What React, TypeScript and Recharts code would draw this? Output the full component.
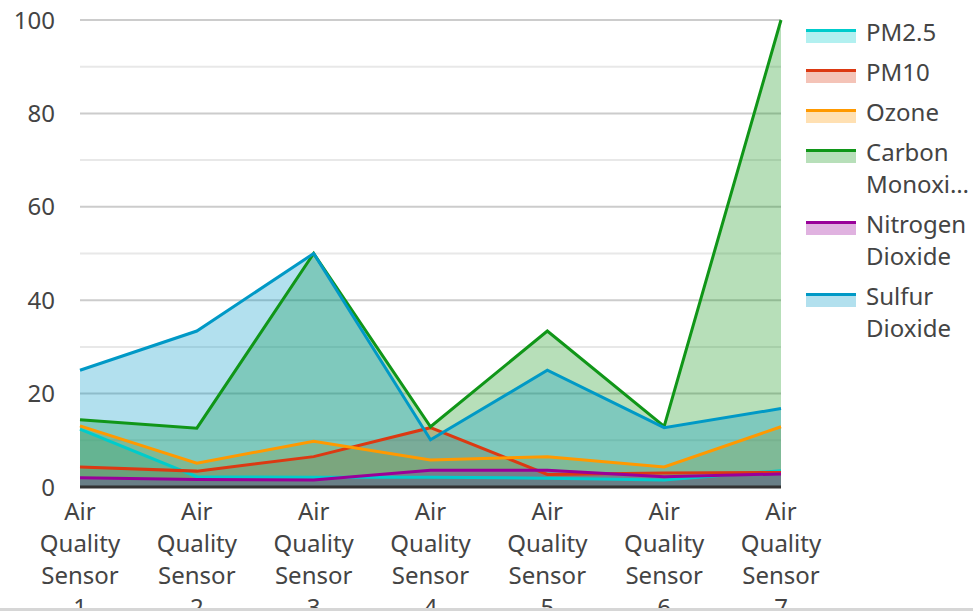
import React from "react";
import {
  Area,
  CartesianGrid,
  ComposedChart,
  Line,
  XAxis,
  YAxis,
} from "recharts";

const categories = [
  "Air Quality Sensor 1",
  "Air Quality Sensor 2",
  "Air Quality Sensor 3",
  "Air Quality Sensor 4",
  "Air Quality Sensor 5",
  "Air Quality Sensor 6",
  "Air Quality Sensor 7",
];

const pm25 = [12.4, 2.2, 2.1, 2.1, 1.9, 1.5, 3.5];
const pm10 = [4.3, 3.4, 6.5, 12.7, 2.7, 3.0, 3.1];
const ozone = [13.1, 5.1, 9.8, 5.8, 6.5, 4.3, 12.9];
const carbonMonoxide = [14.4, 12.6, 50, 12.9, 33.4, 13.0, 100];
const nitrogenDioxide = [2.0, 1.6, 1.5, 3.6, 3.6, 2.2, 2.8];
const sulfurDioxide = [25, 33.4, 50, 10.1, 25, 12.7, 16.8];

const majorTicks = [0, 20, 40, 60, 80, 100];
const minorTicks = [10, 30, 50, 70, 90];

const series = [
  { key: "pm25", name: "PM2.5", color: "#00cccc", values: pm25 },
  { key: "pm10", name: "PM10", color: "#dc3912", values: pm10 },
  { key: "ozone", name: "Ozone", color: "#ff9900", values: ozone },
  { key: "co", name: "Carbon Monoxide", color: "#109618", values: carbonMonoxide },
  { key: "no2", name: "Nitrogen Dioxide", color: "#990099", values: nitrogenDioxide },
  { key: "so2", name: "Sulfur Dioxide", color: "#0099c6", values: sulfurDioxide },
];

const chartData = categories.map((name, i) => {
  const row: Record<string, any> = { name };
  series.forEach((s) => {
    row[s.key] = s.values[i];
  });
  return row;
});

const TEXT = "#444444";

const SensorTick = ({ x, y, payload }: any) => {
  const words = String(payload.value).split(" ");
  return (
    <text x={x} y={y} textAnchor="middle" fill={TEXT} fontSize={24}>
      {words.map((w, i) => (
        <tspan key={i} x={x} dy={i === 0 ? 33 : 32}>
          {w}
        </tspan>
      ))}
    </text>
  );
};

const SideLegend = () => (
  <div style={{ position: "absolute", left: 806, top: 16, width: 167 }}>
    {series.map((s) => (
      <div
        key={s.key}
        style={{ display: "flex", alignItems: "flex-start", marginBottom: 8 }}
      >
        <div style={{ width: 50, marginTop: 13, flex: "none" }}>
          <div style={{ height: 3, background: s.color }} />
          <div style={{ height: 11, background: s.color, opacity: 0.3 }} />
        </div>
        <div style={{ marginLeft: 10, width: 107 }}>
          {s.name.split(" ").map((w, i) => (
            <div
              key={i}
              style={{
                fontSize: 24,
                lineHeight: "32px",
                color: TEXT,
                whiteSpace: "nowrap",
                overflow: "hidden",
                textOverflow: "ellipsis",
              }}
            >
              {w}
            </div>
          ))}
        </div>
      </div>
    ))}
  </div>
);

export default function App() {
  return (
    <div
      style={{
        position: "absolute",
        left: 0,
        top: 0,
        width: 973,
        height: 611,
        overflow: "hidden",
        background: "#fff",
        fontFamily: "'Noto Sans', sans-serif",
      }}
    >
      <ComposedChart
        width={973}
        height={640}
        data={chartData}
        margin={{ top: 20, right: 192, left: 0, bottom: 0 }}
      >
        <CartesianGrid
          yAxisId="main"
          vertical={false}
          horizontalValues={minorTicks}
          stroke="#e8e8e8"
          strokeWidth={2}
        />
        <CartesianGrid
          yAxisId="main"
          vertical={false}
          horizontalValues={majorTicks}
          stroke="#cccccc"
          strokeWidth={2}
        />
        <XAxis
          dataKey="name"
          scale="point"
          padding={{ left: 0, right: 0 }}
          height={153}
          tickLine={false}
          tickSize={0}
          tickMargin={0}
          axisLine={{ stroke: "#333333", strokeWidth: 3 }}
          tick={<SensorTick />}
          interval={0}
        />
        <YAxis
          yAxisId="main"
          domain={[0, 100]}
          ticks={majorTicks}
          width={80}
          axisLine={false}
          tickLine={false}
          tickSize={0}
          tickMargin={25}
          tick={{ fill: TEXT, fontSize: 24 }}
        />
        {series.map((s) => (
          <Area
            key={`a-${s.key}`}
            yAxisId="main"
            type="linear"
            dataKey={s.key}
            name={s.name}
            stroke="none"
            fill={s.color}
            fillOpacity={0.3}
            isAnimationActive={false}
            dot={false}
            activeDot={false}
          />
        ))}
        {series.map((s) => (
          <Line
            key={`l-${s.key}`}
            yAxisId="main"
            type="linear"
            dataKey={s.key}
            name={s.name}
            stroke={s.color}
            strokeWidth={3}
            dot={false}
            activeDot={false}
            isAnimationActive={false}
            legendType="none"
          />
        ))}
      </ComposedChart>
      <SideLegend />
      <div
        style={{
          position: "absolute",
          left: 0,
          bottom: 0,
          width: 973,
          height: 3,
          background: "#d6d6d6",
        }}
      />
    </div>
  );
}
